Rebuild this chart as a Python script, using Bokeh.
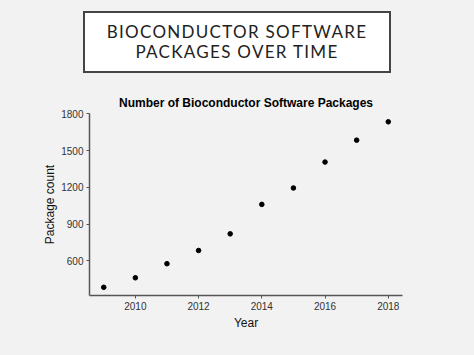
from bokeh.plotting import figure
from bokeh.models import Div, FixedTicker, ColumnDataSource
from bokeh.layouts import column
from bokeh.embed import file_html
from bokeh.resources import INLINE

years = [2009, 2010, 2011, 2012, 2013, 2014, 2015, 2016, 2017, 2018]
counts = [383, 461, 576, 684, 820, 1061, 1195, 1407, 1586, 1736]
x_ticks = [2010, 2012, 2014, 2016, 2018]
y_ticks = [600, 900, 1200, 1500, 1800]
slide_title = "BIOCONDUCTOR SOFTWARE<br>PACKAGES OVER TIME"
chart_title = "Number of Bioconductor Software Packages"

BG = "#f2f2f2"

header = Div(
    text=f'<div style="position:absolute;left:83px;top:11px;width:308px;height:62px;'
         f'box-sizing:border-box;'
         f'background:#ffffff;border:2px solid #444444;display:flex;align-items:center;'
         f'justify-content:center;text-align:center;font-family:Lato,sans-serif;'
         f'font-size:17px;line-height:20px;letter-spacing:1.3px;color:#222222;">'
         f'{slide_title}</div>',
    width=474, height=90, margin=(0, 0, 0, 0),
    styles={"background-color": BG, "position": "relative"},
)

src = ColumnDataSource(dict(year=years, count=counts))

p = figure(
    width=474, height=265, margin=(0, 0, 0, 0),
    x_range=(2008.55, 2018.45), y_range=(316, 1804),
    output_backend="svg", toolbar_location=None,
    min_border_left=89, min_border_right=72, min_border_top=21, min_border_bottom=60,
    background_fill_color=BG, border_fill_color=BG,
)
p.scatter("year", "count", source=src, size=4.6, color="black")

p.title.text = chart_title
p.title.align = "center"
p.title.text_font = "Liberation Sans"
p.title.text_font_size = "12px"
p.title.text_font_style = "bold"
p.title.text_color = "black"
p.title.standoff = 7

p.outline_line_color = None
p.grid.grid_line_color = None

p.xaxis.ticker = FixedTicker(ticks=x_ticks)
p.yaxis.ticker = FixedTicker(ticks=y_ticks)
p.xaxis.minor_tick_line_color = None
p.yaxis.minor_tick_line_color = None
p.xaxis.axis_label = "Year"
p.yaxis.axis_label = "Package count"
for ax in (p.xaxis, p.yaxis):
    ax.axis_line_color = "#555555"
    ax.axis_line_width = 1.5
    ax.major_tick_line_color = "#555555"
    ax.major_tick_in = 0
    ax.major_tick_out = 3
    ax.major_label_text_font = "Liberation Sans"
    ax.major_label_text_font_size = "10px"
    ax.major_label_text_color = "#333333"
    ax.axis_label_text_font = "Liberation Sans"
    ax.axis_label_text_font_size = "12px"
    ax.axis_label_text_font_style = "normal"
    ax.axis_label_text_color = "#111111"
    ax.major_label_standoff = 3
p.xaxis.axis_label_standoff = 3
p.yaxis.axis_label_standoff = 1

layout = column(header, p, spacing=0, margin=(0, 0, 0, 0), styles={"background-color": BG})

open("out.html", "w").write(file_html(layout, INLINE))
